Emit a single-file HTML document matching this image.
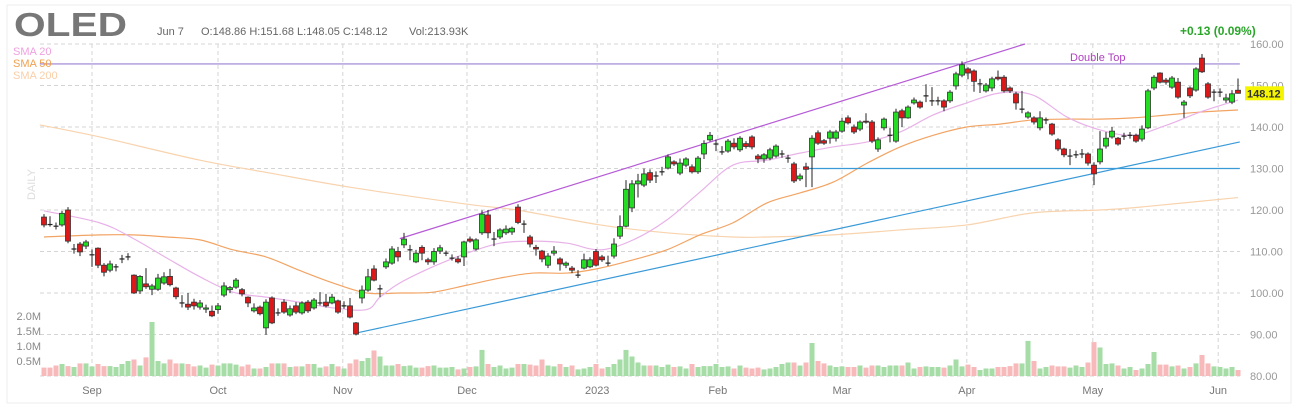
<!DOCTYPE html>
<html><head><meta charset="utf-8">
<style>
html,body{margin:0;padding:0;background:#fff;}
body{width:1297px;height:413px;overflow:hidden;font-family:"Liberation Sans",Arial,sans-serif;}
svg text{font-family:"Liberation Sans",Arial,sans-serif;}
</style></head>
<body>
<svg id="chart" width="1297" height="413" viewBox="0 0 1297 413" xmlns="http://www.w3.org/2000/svg">
<rect x="7" y="5" width="1284" height="398" fill="#fff" stroke="#eee"/>
<g id="grid"></g>
<g id="vol"></g>
<g id="sma"></g>
<g id="ann"></g>
<g id="candles"></g>
<g id="axes"></g>
<text x="14" y="36" font-size="33" font-weight="bold" fill="#777" textLength="113" lengthAdjust="spacingAndGlyphs">OLED</text>
<text x="157" y="35" font-size="11" fill="#666">Jun 7</text>
<text x="201" y="35" font-size="11" fill="#666">O:148.86  H:151.68  L:148.05  C:148.12</text>
<text x="409" y="35" font-size="11" fill="#666">Vol:213.93K</text>
<text x="1180" y="35" font-size="12" font-weight="bold" fill="#2aa52a">+0.13 (0.09%)</text>
<text x="13" y="55" font-size="11" fill="#f0a0e0">SMA 20</text>
<text x="13" y="67" font-size="11" fill="#f0a050">SMA 50</text>
<text x="13" y="79" font-size="11" fill="#f8cfa8">SMA 200</text>
<text x="0" y="0" font-size="11" fill="#ddd" transform="translate(35,200) rotate(-90)">DAILY</text>
<text x="1070" y="61" font-size="11" fill="#b040c0">Double Top</text>
</svg>
<script>
const opens=[118.3,116.5,116.1,116.4,120,110.6,111.8,111.3,109.2,110.8,106.7,105.5,106.3,108.2,108.7,104.3,100.5,102.2,100.9,100.9,102.4,104,101.2,97.6,97.3,97.8,96.6,96.1,95.6,96,99.5,100.8,101.4,100.8,99,95.7,96.6,91.6,98.8,95.2,97.8,94.7,96.9,95.2,97.8,96.4,97.6,97.8,97.6,98.1,96.9,96.9,92.8,98.8,100.7,105.8,101,106.3,107.2,110,111.6,110.4,107.5,111,108,107.5,110.1,109.6,108.4,108.2,108.7,113,110.6,114.5,118.8,113,113.5,114.5,114.7,120.7,116.6,113.5,111,110.1,106.7,109.6,108.2,106.7,106,104.3,106,106.3,110,108.7,107.2,108.9,113.7,116.1,120.5,126.3,126,129,128.2,129.2,130.1,131.6,128.9,130.8,130.4,129.2,133.5,136.9,135.9,134,134.2,136.1,134.5,136,137.6,133,132.3,132.5,133,133.5,132.5,131.1,127.5,130.4,132.8,138.6,136.7,137.3,137.3,139,142.2,140,139.5,141.4,141.2,134.7,139.8,138,136.6,143.9,142.2,145.8,146,147.5,146.3,146.3,146.3,146.3,149.9,152.5,154,153.5,150.4,148.7,149.4,152,152,149.4,148,144.3,142.4,142.2,139.8,141.7,140.7,136.9,134.7,133,133.3,133.5,133.5,130.8,131.6,135.4,137.6,137.3,137.8,138,138,137.1,139.8,149.4,153,151.3,149.6,150.8,145.3,149.4,148.9,156.6,150.4,148.4,148.4,146.5,146,148.86];
const closes=[116.4,116.4,116,119.2,112.5,110.6,109.9,112.3,109.2,106.7,105,107,106.3,108.2,108.7,100,104,101.5,101.7,103.6,103.9,102,99.1,97.6,96.6,96.9,97.6,96.4,94.5,96.9,101.7,101.3,103.1,99.8,97.6,96.4,95,97.8,92.8,95.2,95.4,96.2,95.4,97.6,95.7,98.3,97.6,96.9,99,95.4,96.9,94.2,90.1,100.7,103.9,103.1,101,107.5,110.6,108.7,113,110.4,109.6,109.6,107.5,110,110.9,109.6,108.4,107.5,112.3,112.5,112.8,119,114.5,113,115.2,115.4,115.6,117,116.6,111.8,110.6,108.2,108.9,110.1,107,107.2,105.5,104.3,108,108,106.7,108,107.2,111.8,116,125,126.3,127,128.7,127.2,128.2,129.2,132.8,131.1,131.3,132.3,129.2,132.5,136,138,135.9,134,136.6,135.2,137.3,135.3,135.2,132.3,133.3,134.5,135.4,133.5,132.5,127,128.2,129.8,137.3,136.1,136.1,138.8,138.8,141.4,141,138.8,141.2,141.2,136.6,136.9,141.9,138,143.6,142.2,144.8,146.5,144.8,147.5,146.3,146.3,144.8,148.4,152.8,155,153,151,150.4,150.1,151.6,151.6,148.7,148.7,145.8,144.3,143.4,141.2,142.2,141.7,138.3,134.7,133.3,133,133.3,133.5,131.3,128.7,134.7,137.3,139,135.9,137.8,138,136.6,139.5,148.7,152,150.8,150.8,151.8,147.2,146,147.5,154,153.3,147.2,148.4,148.4,147,148,148.12];
const highs=[119,118.5,117,119.8,120.7,111.8,112.3,112.8,110.5,111,107.2,107.8,107,109.2,109.6,104.5,104.3,106,102.2,104.6,105,105.8,101.5,99.5,100,98.6,98.3,97.2,97,97.6,102.6,101.7,103.6,101.2,99.2,97.5,97,98.5,99.2,96.3,98.5,97,97.8,98,98.3,98.8,100.2,99.8,99.8,98.4,98,98.8,93,101.8,105.8,106.7,102,108.3,111.3,111.1,114.5,111.6,110.4,111.5,108.5,110.8,111.6,110.2,109.3,108.9,112.6,113.6,113.2,119.9,120,114.7,115.6,116.3,116,121.4,117.5,114,111.6,110.4,109.6,111.3,108.6,107.6,106.5,105.5,109.5,108.6,110.6,109.2,109,113.2,118.7,127.2,127.2,128.7,130,129.8,129.3,130.4,133.4,132,132.4,132.7,131,133,136.8,138.8,137,135.4,137.1,137.3,137.8,136.6,138,133.5,133.7,135,135.8,134.4,133.3,131.6,128.8,131.4,138,139.2,137.1,139.3,139.3,142.2,142.8,140.6,141.6,143.3,141.7,137.5,142.3,139.8,144.4,144.4,145.2,147.1,146.4,150.3,149.6,147.3,146.7,148.9,153.3,155.8,154.4,153.9,151.6,150.6,152.1,153.6,152.5,149.8,148.5,148.7,143.8,142.6,143.8,142.3,141,137.3,135,134.7,134.3,134.7,133.9,131.5,139,138.8,140,137.6,138.6,138.8,138.4,140.4,149.2,152.5,153.2,151.8,152.3,151.8,146.5,149.8,154.4,157.6,150.8,149.1,149.3,148,148.9,151.68];
const lows=[115.8,116,115.3,116,112,109.5,108.9,110.6,106.3,106,104,105,105.2,107.2,107.9,99.8,99.8,101,99.5,100.5,102,101.6,98.5,96.5,95.9,96,96,95.2,94.2,95,99,100,101,99.2,96.6,95.3,94.6,89.9,92.5,94.5,95,94.3,94.9,94.8,95.2,96,97,96.5,97.3,95,96.2,93.9,89.8,97.5,100.3,102.8,99,105.8,106.8,107.6,110.8,107.9,107.2,107.9,106.8,106.8,109.4,108.9,107.8,107.1,106.5,112.1,110.2,114,113.2,111.3,113,114,114,116.6,114.5,111,109,107.4,106,109,105.4,106,104.8,103.6,105.7,106,106.4,107.5,106.5,108.3,113,115.8,119.5,123,125.5,126.5,126.5,128.3,129.8,130.6,128.4,130.3,128.8,128.7,132.3,136.5,134.2,133.3,133.8,134.6,134,134.8,134.6,131.3,131.4,132,132.6,132.6,131.4,126.5,127,125.5,125.5,135.7,135.7,136,136.5,138.6,140.6,138.3,139,140.8,136.1,134,139.2,136.3,136.2,140,142,145.4,144.4,146,145.1,145.2,143.8,145.8,149,152,151.5,148.5,148.2,148.3,148.6,151.2,148.3,148.2,144.2,143.3,142,140.6,139.2,140.7,137.9,134.2,132.7,130.8,132.5,132.5,130.7,126,131,134.8,137.2,135.5,136.9,137.2,136.2,136.5,139.5,148.9,150.5,150.2,149.2,146.8,142.2,147,148.5,153,146.8,146.2,147.2,145.8,145.5,148.05];
const volumes=[.28,.28,.35,.4,.33,.3,.42,.42,.32,.4,.33,.33,.3,.4,.5,.55,.35,.62,1.8,.5,.42,.55,.42,.42,.4,.32,.35,.28,.38,.35,.42,.42,.38,.32,.38,.25,.25,.3,.42,.42,.42,.3,.32,.32,.4,.4,.28,.32,.4,.32,.25,.42,.55,.5,.6,.85,.65,.35,.35,.4,.33,.35,.28,.28,.33,.35,.28,.28,.3,.22,.25,.3,.32,.87,.4,.3,.35,.25,.28,.4,.4,.38,.35,.55,.35,.32,.4,.3,.35,.22,.25,.3,.4,.25,.3,.4,.55,.87,.65,.45,.35,.35,.35,.3,.38,.3,.32,.25,.4,.3,.33,.33,.4,.3,.32,.25,.35,.28,.25,.28,.22,.25,.3,.4,.45,.45,.35,.45,1.1,.5,.42,.35,.3,.32,.3,.3,.35,.28,.35,.35,.3,.35,.35,.35,.45,.25,.3,.32,.3,.3,.28,.35,.55,.32,.38,.3,.2,.25,.25,.3,.3,.33,.42,.42,1.17,.5,.25,.3,.35,.32,.32,.28,.35,.3,.45,1.13,.95,.4,.42,.35,.25,.3,.2,.25,.4,.8,.38,.38,.32,.35,.25,.3,.42,.7,.42,.32,.3,.25,.3,.2];
const sma20X=[0,9.3,14.8,20.5,26,31.5,37,42.5,48.2,53.8,56,59.3,64.8,70.5,76,81.5,87.2,92.7,98.2,103.8,109.3,114.8,120.5,126,131.5,137.2,142.7,148.2,153.8,159.3,164.8,170.5,176,181.5,187.2,192.7,199];
const sma20=[119.8,116.9,113.2,108.4,103.9,100.2,99,97.8,96.4,96,99,102.4,106.3,109.6,112,112.5,112,110.4,112.8,117.6,124.3,130.8,132,133.7,135.2,136.4,138.8,142.9,145.8,148.2,147.7,142.4,139.3,138,140.5,143.6,146.5];
const sma50X=[0,9.3,14.8,20.5,26,31.5,37,42.5,48.2,53.8,59.3,64.8,70.5,76,81.5,87.2,92.7,98.2,103.8,109.3,114.8,120.5,126,131.5,137.2,142.7,148.2,153.8,159.3,164.8,170.5,176,181.5,187.2,192.7,199];
const sma50=[113.5,114,114,113.5,112.8,110.4,108.7,105.5,102.4,100,100,100.2,101.9,103.6,104.8,104.8,106,108,110.4,114,116.9,121.7,124.1,126.7,131.3,135.2,138,140,140.7,141.7,141.9,141.9,142.2,142.9,143.6,144.1];
const sma200X=[-0.7,9.3,26,37.7,51,70.5,78.8,92.7,103.8,114.8,120.5,131.5,142.7,153.8,164.8,176,182.7,199];
const sma200=[140.5,137.6,132,128.9,125.5,121.4,120,116.4,114.5,113.5,113.5,114,115.2,116.4,119.3,120,120.7,123];
const monthLabels=["Sep","Oct","Nov","Dec","2023","Feb","Mar","Apr","May","Jun"];
const monthIdx=[8,29,49.8,70.5,92.2,112.3,133,153.8,174.8,195.7];
const priceTicks=[160,150,140,130,120,110,100,90,80];
const volTicks=[0.5,1.0,1.5,2.0];
const lastPrice=148.12;
const channelTop=[[59.3,113.1],[163.5,160]];
const supportLine=[[52.2,90.4],[199.3,136.4]];
const flatSupport=[[127,130],[199.3,130]];
const doubleTop=[[-0.7,155.2],[199.3,155.2]];

const NS="http://www.w3.org/2000/svg";
const X=i=>44+6*i;
const Y=p=>44+(160-p)*4.15;
const VY=v=>376-v*30;
function mk(parent,tag,attrs){const e=document.createElementNS(NS,tag);for(const k in attrs)e.setAttribute(k,attrs[k]);document.getElementById(parent).appendChild(e);return e;}

priceTicks.forEach(p=>{
  const l=mk('grid','line',{x1:40,x2:1240,y1:Y(p),y2:Y(p),stroke:'#d4d4d4','stroke-dasharray':'4,3'});
  
  
  const t=mk('axes','text',{x:1250,y:Y(p)+4,'font-size':11,fill:'#999'});
  t.textContent=p.toFixed(2);
  
  
});
monthIdx.forEach((m,k)=>{
  const l=mk('grid','line',{x1:X(m),x2:X(m),y1:44,y2:376,stroke:'#d4d4d4','stroke-dasharray':'4,3'});
  
  
  const t=mk('axes','text',{x:X(m),y:394,'font-size':11,fill:'#777','text-anchor':'middle'});
  t.textContent=monthLabels[k];
  
  
});
volTicks.forEach(v=>{
  const t=mk('axes','text',{x:41,y:VY(v)+4,'font-size':11,fill:'#888','text-anchor':'end'});
  t.textContent=v.toFixed(1)+'M';
  
  
});
volumes.forEach((v,i)=>{
  const up=closes[i]>=opens[i];
  const r=mk('vol','rect',{x:X(i)-2.5,y:VY(v),width:5,height:v*30,fill:up?'#a6dca6':'#f7b9b9'});
  
  
});
function smooth(xs,ys,color,w,name){
  const P=xs.map((x,k)=>[X(x),Y(ys[k])]);
  let d='M'+P[0][0]+','+P[0][1];
  for(let k=0;k<P.length-1;k++){
    const p0=P[Math.max(k-1,0)],p1=P[k],p2=P[k+1],p3=P[Math.min(k+2,P.length-1)];
    const c1=[p1[0]+(p2[0]-p0[0])/6,p1[1]+(p2[1]-p0[1])/6];
    const c2=[p2[0]-(p3[0]-p1[0])/6,p2[1]-(p3[1]-p1[1])/6];
    d+=' C'+c1[0]+','+c1[1]+' '+c2[0]+','+c2[1]+' '+p2[0]+','+p2[1];
  }
  const p=mk('sma','path',{d:d,fill:'none',stroke:color,'stroke-width':w});
  
  
}
smooth(sma200X,sma200,'#f8d3ae',1.2,'sma200-line');
smooth(sma50X,sma50,'#f2a464',1.2,'sma50-line');
smooth(sma20X,sma20,'#e8b2e8',1.2,'sma20-line');
function seg(s,color,name){
  const l=mk('ann','line',{x1:X(s[0][0]),y1:Y(s[0][1]),x2:X(s[1][0]),y2:Y(s[1][1]),stroke:color,'stroke-width':1.2});
  
  
}
seg(doubleTop,'#9a7fd0','double-top-line');
seg(channelTop,'#b65ad6','channel-top-line');
seg(supportLine,'#3a9ad8','support-trend-line');
seg(flatSupport,'#3a9ad8','horizontal-support-line');
closes.forEach((c,i)=>{
  const o=opens[i],up=c>=o,x=X(i);
  const w=mk('candles','line',{x1:x,x2:x,y1:Y(highs[i]),y2:Y(lows[i]),stroke:'#222','stroke-width':1});
  
  
  const top=Y(Math.max(o,c)),h=Math.max(Math.abs(Y(o)-Y(c)),1);
  if(Math.abs(o-c)<0.15){
    const d=mk('candles','line',{x1:x-2.5,x2:x+2.5,y1:top,y2:top,stroke:'#222','stroke-width':1.2});
    
    
  } else {
    const b=mk('candles','rect',{x:x-2.5,y:top,width:5,height:h,fill:up?'#22dd22':'#dd1818',stroke:'#333','stroke-width':0.8});
    
    
  }
});
const tag=mk('axes','rect',{x:1245,y:Y(lastPrice)-7,width:39,height:14,fill:'#f5f500'});


const tt=mk('axes','text',{x:1247,y:Y(lastPrice)+4,'font-size':11,'font-weight':'bold',fill:'#333'});
tt.textContent=lastPrice.toFixed(2);


</script>
</body></html>
